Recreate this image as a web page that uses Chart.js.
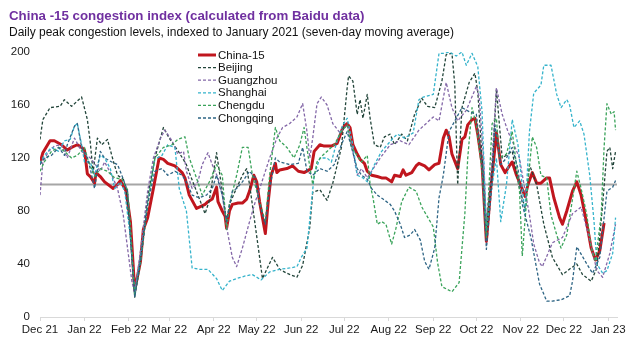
<!DOCTYPE html>
<html>
<head>
<meta charset="utf-8">
<script src="https://cdn.jsdelivr.net/npm/chart.js@4.4.1/dist/chart.umd.min.js"></script>
<style>
  html, body { margin: 0; padding: 0; background: #ffffff; }
  #wrap { width: 640px; height: 360px; }
</style>
</head>
<body>
<div id="wrap"><canvas id="c" width="640" height="360"></canvas></div>
<script>
// ---- Data (x = days since 1 Dec 2021) ----
const titleText = 'China -15 congestion index (calculated from Baidu data)';
const subtitleText = 'Daily peak congestion levels, indexed to January 2021 (seven-day moving average)';

const monthDays = [0, 31, 62, 90, 121, 151, 182, 212, 243, 274, 304, 335, 365, 396];
const monthLabels = ['Dec 21', 'Jan 22', 'Feb 22', 'Mar 22', 'Apr 22', 'May 22', 'Jun 22', 'Jul 22', 'Aug 22', 'Sep 22', 'Oct 22', 'Nov 22', 'Dec 22', 'Jan 23'];
const yTicks = [0, 40, 80, 120, 160, 200];
const baselineValue = 100;
const axisEndDay = 402;

const seriesNames = ['China-15', 'Beijing', 'Guangzhou', 'Shanghai', 'Chengdu', 'Chongqing'];

const chinaDays = [0,2,7,10,15,19,22,26,29,31,33,35,38,39,42,45,51,54,56,60,63,66,70,72,75,79,83,86,89,94,99,101,104,109,111,115,117,120,122,123,124,127,129,130,132,134,138,141,144,146,149,151,153,157,159,161,164,165,167,172,176,180,184,189,191,195,198,203,207,211,214,216,218,221,223,226,228,231,235,238,241,245,247,251,253,255,259,262,264,268,271,275,278,281,283,285,287,291,294,296,298,301,303,305,308,311,314,318,321,324,327,329,332,334,338,340,343,346,349,353,355,358,362,364,367,371,374,377,381,384,387,390,393];
const chinaVals = [116,124,133,133,130,126,128,130,128,126,108,106,101,109,106,102,97,100,103,95,72,20,42,66,75,97,120,119,116,114,109,105,92,82,83,85,87,89,95,98,87,80,76,67,80,85,86,86,89,95,107,102,87,63,87,107,116,109,111,112,114,110,109,112,125,130,129,129,131,143,146,143,130,123,119,116,110,107,106,105,105,102,107,106,111,107,109,114,116,114,111,115,116,135,141,136,123,112,134,136,145,149,150,138,115,57,97,139,115,109,114,117,107,102,91,100,109,101,101,105,105,90,75,70,80,95,102,92,70,52,43,50,71];

const beijingDays = [0,2,7,14,17,22,29,33,35,37,40,43,47,51,54,58,60,63,66,70,75,80,86,90,97,102,104,109,115,118,123,127,130,132,136,141,144,146,152,155,158,162,167,172,179,183,188,190,195,200,204,210,214,215,218,221,223,225,228,230,233,237,240,244,247,252,256,261,266,270,275,280,283,287,289,291,294,299,303,305,308,311,315,318,322,329,334,338,341,346,351,357,364,370,374,378,384,388,392,395,397,399,401];
const beijingVals = [134,149,158,159,164,159,166,149,132,109,135,130,134,118,107,104,97,60,15,45,90,120,143,135,124,115,109,95,78,88,124,95,72,85,95,107,112,100,53,29,36,45,36,33,30,39,68,94,96,88,101,128,173,182,178,153,164,150,168,150,130,128,136,138,130,138,133,153,165,159,158,178,198,199,175,100,158,177,184,170,120,65,110,172,120,125,97,82,115,100,70,45,32,37,40,32,27,37,85,125,128,112,125];

const guangzhouDays = [0,2,6,10,15,19,24,29,35,38,42,45,50,54,58,64,66,70,75,79,84,87,92,96,100,102,106,110,113,117,120,124,127,131,134,137,141,146,150,154,160,165,169,174,179,183,186,188,190,193,196,200,204,209,214,218,221,224,228,237,244,251,257,264,274,278,283,287,291,297,304,306,309,311,315,318,322,326,331,334,338,341,344,348,350,357,364,371,377,383,388,392,397,401];
const guangzhouVals = [92,117,125,129,130,120,135,125,120,116,110,117,107,97,77,27,18,50,95,120,135,141,133,123,125,110,97,102,115,124,115,105,92,62,45,38,52,72,87,100,120,135,143,146,151,161,140,120,135,161,166,160,146,139,145,125,107,112,105,120,130,133,130,141,151,148,177,158,148,156,174,166,120,70,120,173,153,140,128,120,95,77,55,41,38,56,60,78,83,58,35,30,48,70];

const shanghaiDays = [0,3,8,13,17,21,24,26,29,31,35,38,42,45,49,52,56,59,63,66,70,75,80,85,89,94,97,102,106,111,117,123,127,132,137,143,148,154,160,167,174,179,182,186,189,191,195,200,203,207,211,214,218,221,225,228,233,238,242,246,249,254,260,264,267,274,278,282,285,290,294,297,301,305,308,311,315,318,321,325,329,333,338,341,344,349,351,356,360,363,367,369,372,376,379,383,386,388,392,395,399,401];
const shanghaiVals = [116,122,128,125,133,134,144,146,130,117,117,107,122,120,112,97,102,95,60,18,45,85,119,122,130,128,97,80,37,36,36,29,20,27,29,31,32,28,34,36,37,38,45,52,85,107,120,120,117,133,145,150,130,107,105,102,115,125,130,135,138,135,139,164,166,168,199,199,200,197,200,190,199,189,155,65,100,120,72,100,149,130,77,140,169,175,190,190,168,158,164,160,143,148,138,107,72,40,33,35,48,75];

const chengduDays = [0,3,8,13,17,22,26,31,33,38,42,47,52,57,61,63,66,70,75,80,86,92,96,101,104,109,113,118,123,127,130,132,137,141,145,148,153,157,160,164,167,172,177,181,184,187,190,193,197,205,210,214,217,221,224,228,230,232,235,238,241,245,248,252,257,262,266,274,277,280,287,292,296,298,301,304,308,311,315,318,320,325,329,334,336,340,343,346,349,353,356,360,363,367,370,374,377,381,384,387,391,393,395,398,400,401];
const chengduVals = [110,117,125,128,125,120,122,128,120,106,112,110,105,104,96,70,16,40,85,120,128,130,134,136,120,105,92,102,115,107,66,85,107,128,128,107,87,72,107,143,133,128,120,130,143,120,100,117,122,130,140,145,128,122,117,122,100,90,70,72,70,55,67,87,98,95,83,68,41,23,19,26,78,120,158,145,110,60,146,150,120,123,140,97,46,102,136,128,107,105,77,62,52,62,82,110,97,77,52,42,77,128,161,153,155,141];

const chongqingDays = [0,3,8,13,17,19,24,26,29,33,35,38,42,45,50,54,57,61,63,66,70,75,80,85,89,94,99,102,106,111,116,120,123,127,130,134,137,141,146,150,153,157,160,164,167,174,180,183,186,190,195,200,205,210,214,217,221,224,228,231,235,239,244,247,251,254,258,261,265,268,271,275,278,281,285,290,294,299,304,308,311,315,317,321,325,329,333,336,342,348,353,357,363,369,371,374,381,385,390,395,399,401];
const chongqingVals = [115,120,122,128,122,130,144,146,128,120,112,97,125,120,117,115,107,95,60,15,42,85,110,112,107,110,107,102,92,90,92,97,107,92,72,95,97,102,110,105,85,70,97,120,117,115,116,128,110,107,112,110,115,130,140,128,112,107,104,97,92,89,85,80,70,60,62,66,58,42,36,52,90,107,140,150,158,155,153,115,51,102,145,115,120,128,112,85,60,25,12,12,13,16,27,53,40,33,45,95,98,103];

// ---- Styles ----
const FONT = '"Liberation Sans", Arial, Helvetica, sans-serif';
const seriesStyle = [
  { color: '#C0161E', width: 3, dash: [] },
  { color: '#22453A', width: 1.3, dash: [3, 2] },
  { color: '#8468A8', width: 1.3, dash: [3, 2] },
  { color: '#35B3CB', width: 1.3, dash: [3, 2] },
  { color: '#3AA35A', width: 1.3, dash: [3, 2] },
  { color: '#2D6484', width: 1.3, dash: [3, 2] }
];
const seriesDays = [chinaDays, beijingDays, guangzhouDays, shanghaiDays, chengduDays, chongqingDays];
const seriesVals = [chinaVals, beijingVals, guangzhouVals, shanghaiVals, chengduVals, chongqingVals];

const datasets = seriesNames.map((name, i) => ({
  label: name,
  data: seriesDays[i].map((d, k) => ({ x: d, y: seriesVals[i][k] })),
  borderColor: seriesStyle[i].color,
  backgroundColor: seriesStyle[i].color,
  borderWidth: seriesStyle[i].width,
  borderDash: seriesStyle[i].dash,
  borderJoinStyle: 'round',
  borderCapStyle: 'butt',
  pointRadius: 0,
  tension: 0,
  fill: false,
  order: 6 - i,
  inLegend: true
}));
datasets.push({
  label: 'baseline',
  data: [{ x: 0, y: baselineValue }, { x: axisEndDay, y: baselineValue }],
  borderColor: '#A6A6A6',
  borderWidth: 2,
  pointRadius: 0,
  fill: false,
  order: 10,
  inLegend: false
});

const headerPlugin = {
  id: 'header',
  afterDraw(chart) {
    const ctx = chart.ctx;
    ctx.save();
    ctx.textAlign = 'left';
    ctx.textBaseline = 'alphabetic';
    ctx.fillStyle = '#7030A0';
    ctx.font = 'bold 13.3px ' + FONT;
    ctx.fillText(titleText, 9, 20);
    ctx.fillStyle = '#111111';
    ctx.font = '12px ' + FONT;
    ctx.fillText(subtitleText, 9, 36);
    ctx.restore();
  }
};

const legendPlugin = {
  id: 'insideLegend',
  afterDatasetsDraw(chart) {
    const ctx = chart.ctx;
    const a = chart.chartArea;
    const x0 = a.left + 158;
    const x1 = x0 + 18;
    let y = a.top + 3;
    ctx.save();
    ctx.font = '11.5px ' + FONT;
    ctx.textBaseline = 'middle';
    ctx.textAlign = 'left';
    chart.data.datasets.forEach(ds => {
      if (!ds.inLegend) return;
      ctx.beginPath();
      ctx.strokeStyle = ds.borderColor;
      ctx.lineWidth = ds.borderWidth;
      ctx.setLineDash(ds.borderDash);
      ctx.moveTo(x0, y);
      ctx.lineTo(x1, y);
      ctx.stroke();
      ctx.setLineDash([]);
      ctx.fillStyle = '#111111';
      ctx.fillText(ds.label, x1 + 2, y + 0.5);
      y += 12.6;
    });
    ctx.restore();
  }
};

new Chart(document.getElementById('c'), {
  type: 'line',
  data: { datasets },
  plugins: [headerPlugin, legendPlugin],
  options: {
    responsive: false,
    animation: false,
    devicePixelRatio: 1,
    layout: { padding: { top: 52, right: 23, bottom: 0, left: 0 } },
    plugins: { legend: { display: false }, tooltip: { enabled: false }, title: { display: false } },
    scales: {
      x: {
        type: 'linear',
        min: 0,
        max: axisEndDay,
        afterBuildTicks: (s) => { s.ticks = monthDays.map(v => ({ value: v })); },
        afterFit: (s) => { s.height = 43; },
        ticks: {
          autoSkip: false, maxRotation: 0, minRotation: 0, padding: 2,
          color: '#1a1a1a', font: { family: FONT, size: 11.5 },
          callback: (v) => { const i = monthDays.indexOf(v); return i >= 0 ? monthLabels[i] : ''; }
        },
        grid: { display: true, drawOnChartArea: false, drawTicks: true, tickLength: 4, color: '#D9D9D9' },
        border: { display: true, color: '#D9D9D9', width: 1 }
      },
      y: {
        min: 0,
        max: 200,
        afterBuildTicks: (s) => { s.ticks = yTicks.map(v => ({ value: v })); },
        afterFit: (s) => { s.width = 40; },
        ticks: { padding: 10, color: '#1a1a1a', font: { family: FONT, size: 11.5 } },
        grid: { display: false, drawTicks: false },
        border: { display: false }
      }
    }
  }
});
</script>
</body>
</html>
